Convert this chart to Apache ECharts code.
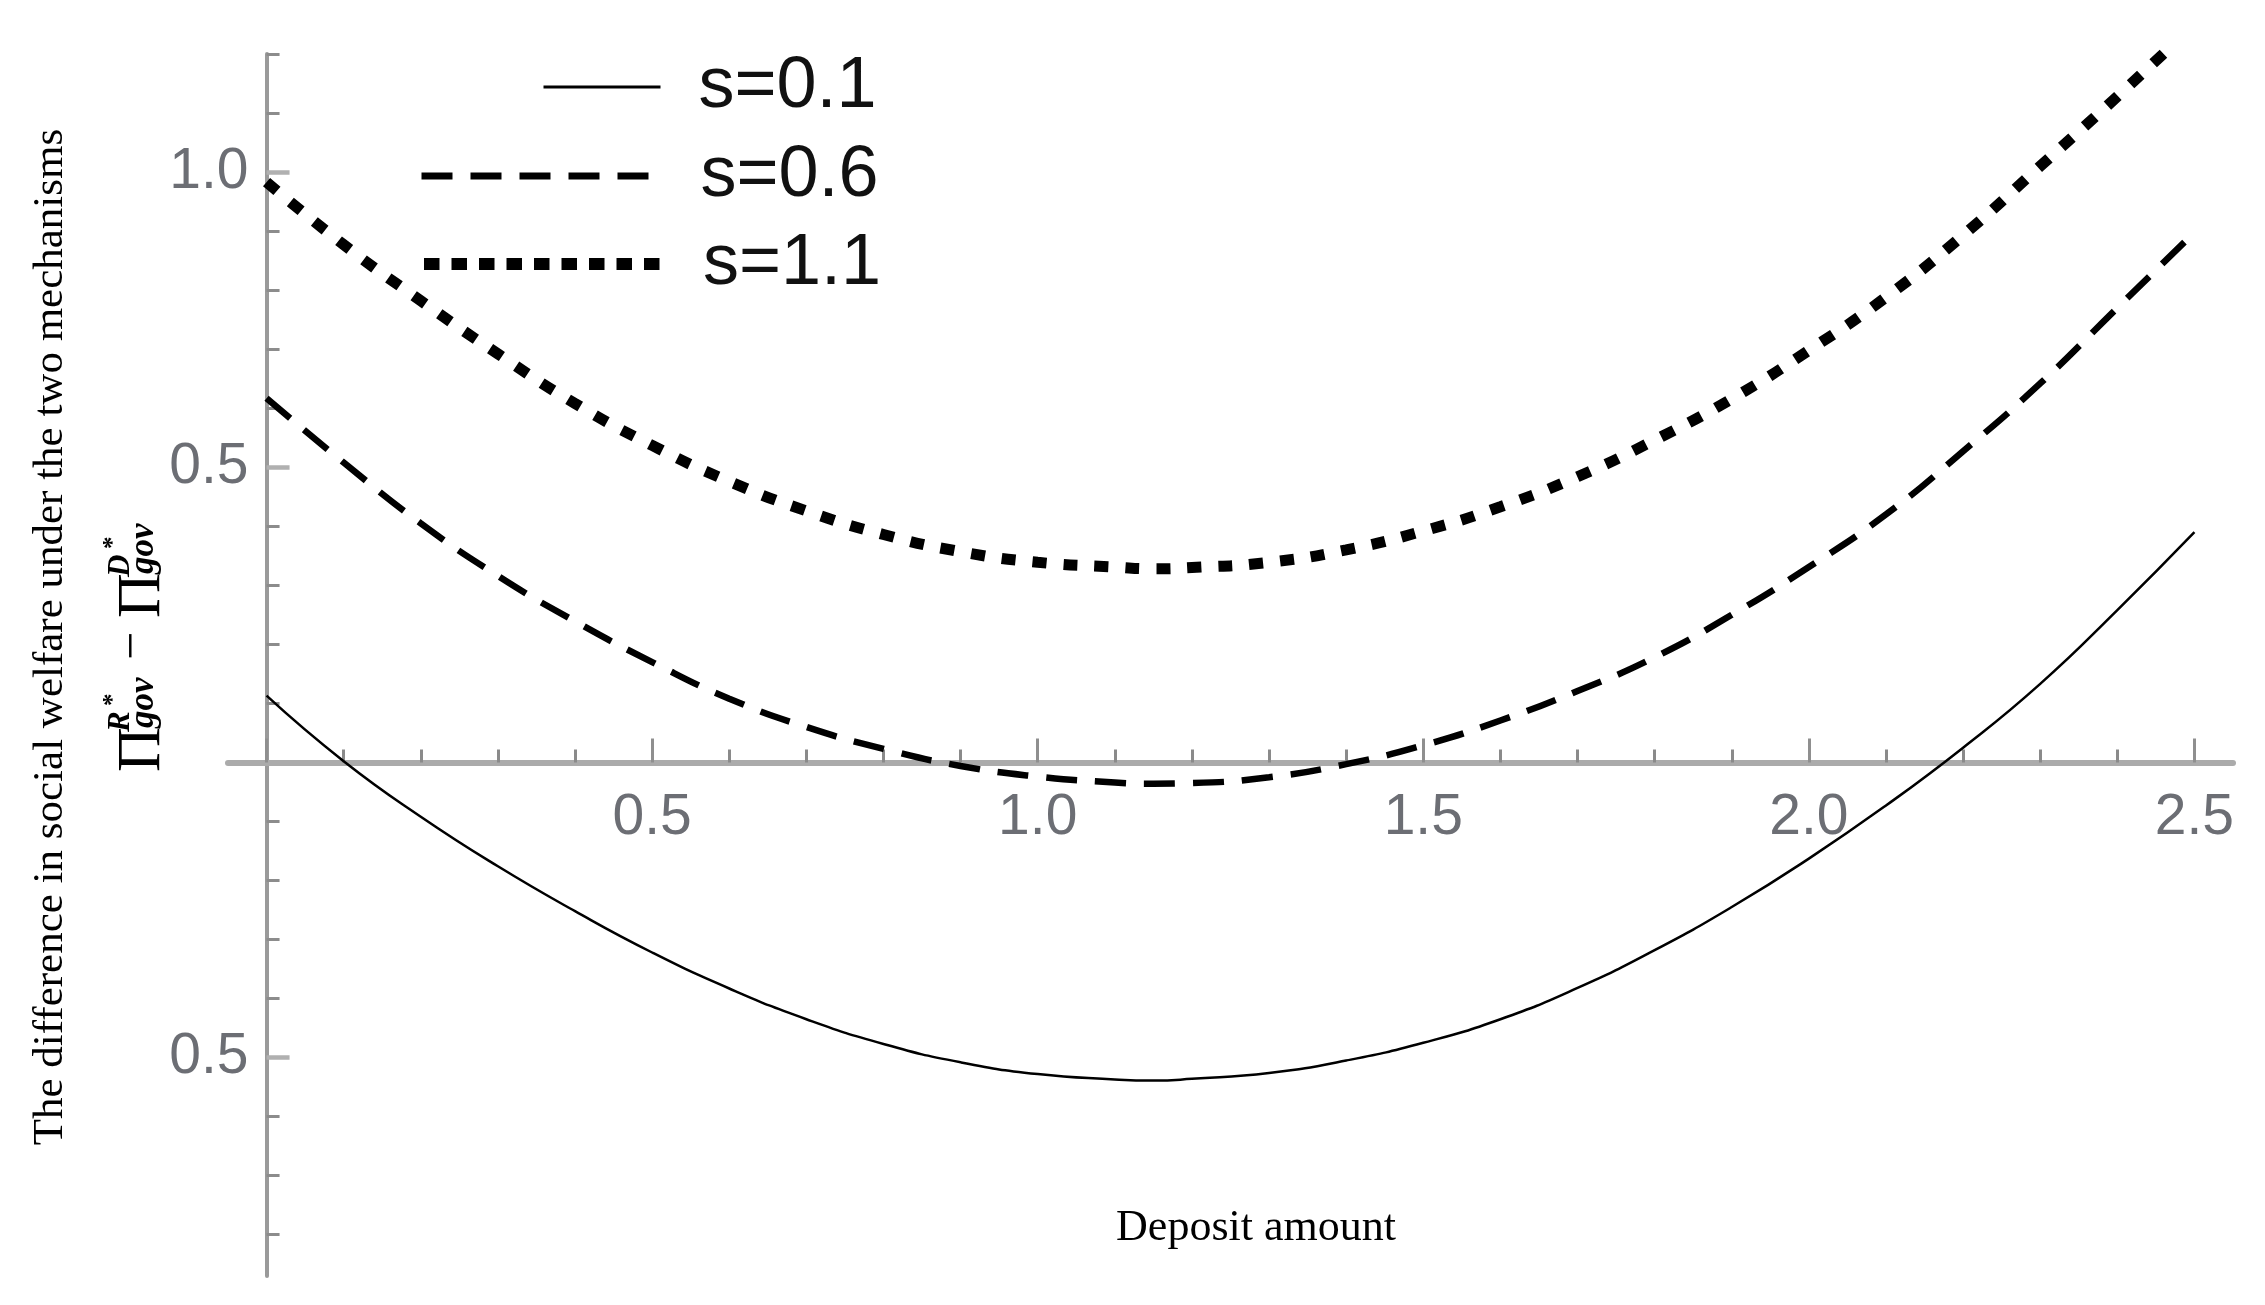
<!DOCTYPE html>
<html>
<head>
<meta charset="utf-8">
<script src="https://cdn.jsdelivr.net/npm/echarts@6/dist/echarts.min.js"></script>
<style>
html,body{margin:0;padding:0;background:#fff;}
#chart{width:2265px;height:1305px;}
</style>
</head>
<body>
<div id="chart"></div>
<script>
// Deposit amount (x values)
const xValues = [0,0.1,0.2,0.3,0.4,0.5,0.6,0.7,0.8,0.9,1.0,1.1,1.15,1.2,1.3,1.4,1.5,1.6,1.7,1.8,1.9,2.0,2.1,2.2,2.3,2.4,2.5];
// Difference in social welfare
const s01 = [0.113,0.002,-0.092,-0.176,-0.252,-0.322,-0.383,-0.435,-0.477,-0.508,-0.528,-0.537,-0.539,-0.536,-0.526,-0.505,-0.475,-0.435,-0.382,-0.318,-0.245,-0.163,-0.073,0.025,0.133,0.258,0.390];
const s06 = [0.617,0.508,0.405,0.316,0.239,0.170,0.108,0.060,0.023,-0.006,-0.024,-0.034,-0.036,-0.035,-0.025,-0.003,0.029,0.071,0.121,0.178,0.250,0.331,0.420,0.527,0.642,0.770,0.898];
const s11 = [0.983,0.877,0.782,0.692,0.608,0.537,0.476,0.426,0.386,0.357,0.339,0.331,0.328,0.330,0.339,0.360,0.392,0.433,0.484,0.546,0.616,0.698,0.788,0.893,1.010,1.128,1.250];
const seriesNames = ['s=0.1','s=0.6','s=1.1'];
// Tick positions and labels
const xMinorTicks = [0.1,0.2,0.3,0.4,0.6,0.7,0.8,0.9,1.1,1.2,1.3,1.4,1.6,1.7,1.8,1.9,2.1,2.2,2.3,2.4];
const xMajorTicks = [0,0.5,1.0,1.5,2.0,2.5];
const xLabelValues = [0.5,1.0,1.5,2.0,2.5];
const yMinorTicks = [-0.8,-0.7,-0.6,-0.4,-0.3,-0.2,-0.1,0.1,0.2,0.3,0.4,0.6,0.7,0.8,0.9,1.1,1.2];
const yMajorTicks = [-0.5,0.5,1.0];
const yLabelValues = [-0.5,0.5,1.0];
const xTitle = 'Deposit amount';
const yTitle = 'The difference in social welfare under the two mechanisms';

const X_MIN = -0.05, X_MAX = 2.55, Y_MIN = -0.87, Y_MAX = 1.2;
const GRID = {left:228, right:32, top:54, bottom:29};
const W = 2265, H = 1305;
// shift axes so that they cross at the origin
const gridW = W - GRID.left - GRID.right, gridH = H - GRID.top - GRID.bottom;
const xAxisOffset = -gridH * (0 - Y_MIN) / (Y_MAX - Y_MIN);
const yAxisOffset = -gridW * (0 - X_MIN) / (X_MAX - X_MIN);

function pairs(ys){ return xValues.map((x,i)=>[x, ys[i]]); }

const chart = echarts.init(document.getElementById('chart'));
const labelFont = {fontFamily:'"Liberation Sans", Arial, sans-serif', fontSize:57, color:'#6c6e74'};

const serif = '"Liberation Serif", "Times New Roman", serif';
function t(txt, lx, ly, size, opts){
  return {type:'text', x:lx, y:ly, silent:true, style:Object.assign({
    text:txt, fontFamily:serif, fontSize:size, fill:'#000', align:'left', verticalAlign:'middle'
  }, opts||{})};
}
const bi = {fontWeight:'bold', fontStyle:'italic'};
const legendFont = {fontFamily:'"Liberation Sans", Arial, sans-serif', fontSize:72, lineHeight:80, color:'#111'};

const option = {
  animation:false,
  backgroundColor:'#fff',
  grid:{left:GRID.left, right:GRID.right, top:GRID.top, bottom:GRID.bottom, containLabel:false, outerBoundsMode:'none'},
  xAxis:[
    {type:'value', min:X_MIN, max:X_MAX, position:'bottom', offset:xAxisOffset,
     axisLine:{show:true, onZero:false, lineStyle:{color:'#ababab', width:6}},
     axisTick:{show:true, inside:true, length:13, customValues:xMinorTicks, lineStyle:{color:'#8a8a8a', width:3}},
     axisLabel:{show:true, customValues:xLabelValues, margin:27, formatter:v=>v.toFixed(1), ...labelFont},
     splitLine:{show:false}},
    {type:'value', min:X_MIN, max:X_MAX, position:'bottom', offset:xAxisOffset,
     axisLine:{show:false, onZero:false},
     axisTick:{show:true, inside:true, length:24, customValues:xMajorTicks, lineStyle:{color:'#8f8f8f', width:3}},
     axisLabel:{show:false}, splitLine:{show:false}}
  ],
  yAxis:[
    {type:'value', min:Y_MIN, max:Y_MAX, position:'left', offset:yAxisOffset,
     axisLine:{show:true, onZero:false, lineStyle:{color:'#9a9a9a', width:4}},
     axisTick:{show:true, inside:true, length:13, customValues:yMinorTicks, lineStyle:{color:'#8c8c8c', width:3}},
     axisLabel:{show:true, customValues:yLabelValues, margin:18, formatter:v=>Math.abs(v).toFixed(1), ...labelFont},
     splitLine:{show:false}},
    {type:'value', min:Y_MIN, max:Y_MAX, position:'left', offset:yAxisOffset,
     axisLine:{show:false, onZero:false},
     axisTick:{show:true, inside:true, length:23, customValues:yMajorTicks, lineStyle:{color:'#b0b0b0', width:4.5}},
     axisLabel:{show:false}, splitLine:{show:false}}
  ],
  legend:[
    {data:[seriesNames[0]], left:542, top:47, orient:'vertical', padding:0, itemWidth:117, itemHeight:14,
     selectedMode:false, itemStyle:{opacity:0},
     lineStyle:{color:'#000', width:3, type:'solid'},
     textStyle:Object.assign({padding:[0,0,0,33]}, legendFont)},
    {data:[seriesNames[1]], left:418, top:136, orient:'vertical', padding:0, itemWidth:232, itemHeight:14,
     selectedMode:false, itemStyle:{opacity:0},
     lineStyle:{color:'#000', width:7, type:[31,18]},
     textStyle:Object.assign({padding:[0,0,0,42]}, legendFont)},
    {data:[seriesNames[2]], left:418, top:224, orient:'vertical', padding:0, itemWidth:236, itemHeight:14,
     selectedMode:false, itemStyle:{opacity:0},
     lineStyle:{color:'#000', width:12, type:[15.5,12]},
     textStyle:Object.assign({padding:[0,0,0,38]}, legendFont)}
  ],
  series:[
    {name:seriesNames[0], type:'line', data:pairs(s01), smooth:true, symbol:'none', clip:true,
     lineStyle:{color:'#000', width:2.5, type:'solid'}, itemStyle:{color:'#000'}},
    {name:seriesNames[1], type:'line', data:pairs(s06), smooth:true, symbol:'none', clip:true,
     lineStyle:{color:'#000', width:6.5, type:[31,18]}, itemStyle:{color:'#000'}},
    {name:seriesNames[2], type:'line', data:pairs(s11), smooth:true, symbol:'none', clip:true,
     lineStyle:{color:'#000', width:11, type:[14,17]}, itemStyle:{color:'#000'}}
  ],
  graphic:[
    {type:'text', x:51, y:637, rotation:Math.PI/2, silent:true,
     style:{text:yTitle, fontFamily:serif, fontSize:43, fill:'#000', align:'center', verticalAlign:'middle'}},
    {type:'group', x:162, y:772, rotation:Math.PI/2, silent:true, children:[
      t('\u03A0', 0, -19, 62),
      t('R', 40, -41, 31, bi),
      t('*', 66, -48, 25, {fontWeight:'bold'}),
      t('gov', 44, -18, 35, bi),
      t('\u2212', 112, -28, 50),
      t('\u03A0', 154, -19, 62),
      t('D', 195, -41, 31, bi),
      t('*', 223, -48, 25, {fontWeight:'bold'}),
      t('gov', 198, -18, 35, bi)
    ]},
    {type:'text', x:1256, y:1228, silent:true,
     style:{text:xTitle, fontFamily:serif, fontSize:44, fill:'#000', align:'center', verticalAlign:'middle'}}
  ]
};
chart.setOption(option);
</script>
</body>
</html>
